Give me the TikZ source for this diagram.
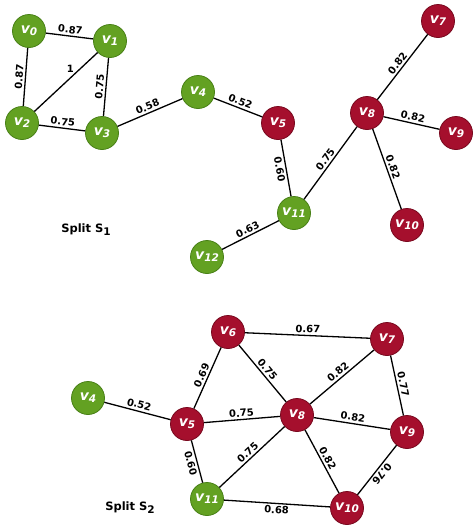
\documentclass[tikz,border=0pt]{standalone}
\usepackage{fontspec}
\setmainfont{DejaVu Sans}
\definecolor{gfill}{RGB}{99,161,34}
\definecolor{gdraw}{RGB}{72,128,22}
\definecolor{rfill}{RGB}{165,15,45}
\definecolor{rdraw}{RGB}{120,8,30}
\newcommand{\vlab}[1]{{\bfseries\itshape\fontsize{14}{14}\selectfont v\raisebox{-2pt}{\fontsize{10.5}{10.5}\selectfont #1}}}
\begin{document}
\begin{tikzpicture}[x=1pt,y=-1pt,
  vx/.style={circle, minimum size=33pt, inner sep=0pt, line width=0.8pt, text=white},
  gv/.style={vx, fill=gfill, draw=gdraw},
  rv/.style={vx, fill=rfill, draw=rdraw},
  edge/.style={line width=1.3pt, black},
  lab/.style={font=\bfseries\fontsize{10}{10}\selectfont, inner sep=2pt, sloped, midway},
  ttl/.style={font=\bfseries\fontsize{11.5}{12}\selectfont}
]
\useasboundingbox (0,0) rectangle (474,528);
% ---- Split S1 ----
\node[gv] (a0) at (29,31) {\vlab{0}};
\node[gv] (a1) at (110,41) {\vlab{1}};
\node[gv] (a2) at (22,123) {\vlab{2}};
\node[gv] (a3) at (102,133) {\vlab{3}};
\node[gv] (a4) at (198,92) {\vlab{4}};
\node[rv] (a5) at (278,123) {\vlab{5}};
\node[rv] (a7) at (438,21) {\vlab{7}};
\node[rv] (a8) at (367,113) {\vlab{8}};
\node[rv] (a9) at (456,133) {\vlab{9}};
\node[rv] (a10) at (407,225) {\vlab{10}};
\node[gv] (a11) at (294,213) {\vlab{11}};
\node[gv] (a12) at (207,257) {\vlab{12}};
\node[ttl] (t1) at (86,230) {Split S\raisebox{-3pt}{\fontsize{10.5}{10.5}\selectfont 1}};

\draw[edge] (a0) -- node[lab,above] {0.87} (a1);
\draw[edge] (a2) -- node[lab,above] {0.87} (a0);
\draw[edge] (a2) -- node[font=\bfseries\fontsize{10}{10}\selectfont, inner sep=2pt, pos=0.57, above=3pt] {1} (a1);
\draw[edge] (a3) -- node[lab,above] {0.75} (a1);
\draw[edge] (a2) -- node[lab,above] {0.75} (a3);
\draw[edge] (a3) -- node[lab,above] {0.58} (a4);
\draw[edge] (a4) -- node[lab,above] {0.52} (a5);
\draw[edge] (a5) -- node[lab,below] {0.60} (a11);
\draw[edge] (a11) -- node[lab,above] {0.75} (a8);
\draw[edge] (a12) -- node[lab,above] {0.63} (a11);
\draw[edge] (a8) -- node[lab,above] {0.82} (a7);
\draw[edge] (a8) -- node[lab,above] {0.82} (a9);
\draw[edge] (a8) -- node[lab,above] {0.82} (a10);

% ---- Split S2 ----
\node[rv] (b6) at (228,332) {\vlab{6}};
\node[gv] (b4) at (88,398) {\vlab{4}};
\node[rv] (b5) at (187,424) {\vlab{5}};
\node[gv] (b11) at (207,499) {\vlab{11}};
\node[rv] (b7) at (387,339) {\vlab{7}};
\node[rv] (b8) at (297,415) {\vlab{8}};
\node[rv] (b9) at (407,432) {\vlab{9}};
\node[rv] (b10) at (347,508) {\vlab{10}};
\node[ttl] (t2) at (130,508) {Split S\raisebox{-3pt}{\fontsize{10.5}{10.5}\selectfont 2}};

\draw[edge] (b4) -- node[lab,above] {0.52} (b5);
\draw[edge] (b5) -- node[lab,above] {0.69} (b6);
\draw[edge] (b6) -- node[lab,above] {0.75} (b8);
\draw[edge] (b6) -- node[lab,above] {0.67} (b7);
\draw[edge] (b5) -- node[lab,above] {0.75} (b8);
\draw[edge] (b5) -- node[lab,below] {0.60} (b11);
\draw[edge] (b11) -- node[lab,above] {0.75} (b8);
\draw[edge] (b11) -- node[lab,below] {0.68} (b10);
\draw[edge] (b8) -- node[lab,above] {0.82} (b7);
\draw[edge] (b8) -- node[lab,above] {0.82} (b9);
\draw[edge] (b8) -- node[lab,above] {0.82} (b10);
\draw[edge] (b7) -- node[lab,above] {0.77} (b9);
\draw[edge] (b9) -- node[lab,above,allow upside down] {0.76} (b10);
\end{tikzpicture}
\end{document}
